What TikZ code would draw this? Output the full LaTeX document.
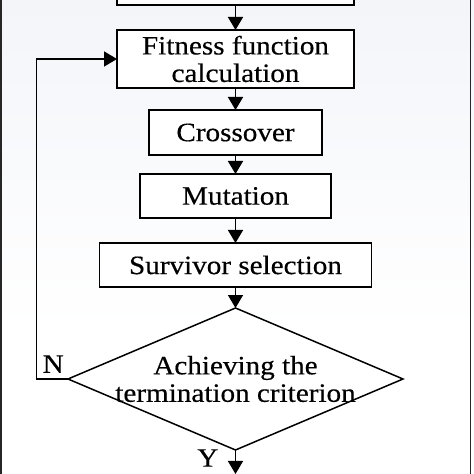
\documentclass[tikz,border=0pt]{standalone}
\usepackage{fontspec}
\setmainfont{Liberation Serif}[FakeStretch=1.1, FakeBold=0.4]
\usepackage{tikz}
\usetikzlibrary{
  arrows.meta,
  positioning,
  shapes.geometric
}
\definecolor{fundo}{HTML}{F3F5F9}

\begin{document}
\begin{tikzpicture}[
      x=1pt, y=1pt,
      caixa/.style={draw=black, line width=1.5pt, fill=white, inner sep=0pt, outer sep=0pt, align=center, font=\fontsize{26.5}{27.5}\selectfont},
      decisao/.style={diamond, draw=black, line width=1.5pt, fill=white, inner sep=0pt, outer sep=0pt, minimum width=335pt, minimum height=142pt},
      rotulo/.style={inner sep=0pt, font=\fontsize{26.5}{27.5}\selectfont},
      seta/.style={-{Triangle[length=13pt,width=15pt]}, line width=1.6pt, black}
  ]
      % Fundo
      \useasboundingbox (0,0) rectangle (474,474);
      \fill[white] (0,0) rectangle (474,474);
      \shade[top color=fundo, bottom color=white] (0,474) rectangle (474,144);
      \draw[line width=1.5pt, black!85] (1,0) -- (1,474);
      \draw[line width=1.5pt, black!85] (470.5,0) -- (470.5,474);

      % Etapas
      \node[caixa, minimum width=237pt, minimum height=40pt] (init) at (235.5,489) {};
      \node[caixa, minimum width=237pt, minimum height=58pt, below=25pt of init] (fit) {Fitness function\\calculation};
      \node[caixa, minimum width=173pt, minimum height=45pt, below=22pt of fit] (cross) {Crossover};
      \node[caixa, minimum width=191pt, minimum height=44pt, below=19pt of cross] (mut) {Mutation};
      \node[caixa, minimum width=272pt, minimum height=44pt, below=25pt of mut] (surv) {Survivor selection};
      \node[decisao, below=21pt of surv, label={[rotulo, align=center]center:Achieving the\\termination criterion}] (crit) {};

      \draw[seta] (init) -- (fit);
      \draw[seta] (fit) -- (cross);
      \draw[seta] (cross) -- (mut);
      \draw[seta] (mut) -- (surv);
      \draw[seta] (surv) -- (crit);

      % Saidas
      \draw[seta] (crit.west) -- ++(-31.5pt,0) coordinate (volta) |- (fit.west);
      \node[rotulo, above right=6pt and 6pt of volta] (nao) {N};
      \draw[seta] (crit.south) -- ++(0,-24pt) coordinate (fim);
      \node[rotulo, left=17pt of crit.south, yshift=-8pt] (sim) {Y};

  \end{tikzpicture}
\end{document}
